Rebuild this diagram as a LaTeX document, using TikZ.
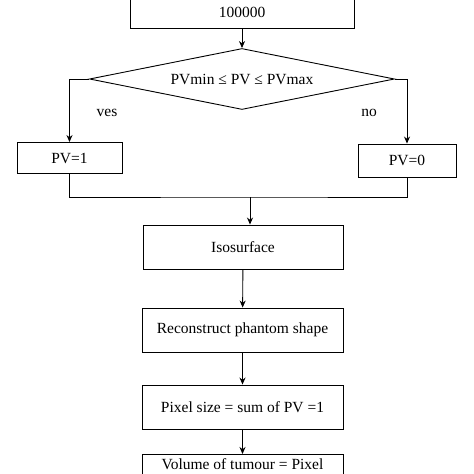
\documentclass[tikz,border=0pt]{standalone}
\usepackage{fontspec}
\setmainfont{Liberation Serif}
\usetikzlibrary{shapes.geometric,arrows.meta}

\tikzstyle{process} = [
    rectangle, draw=black, line width=0.9pt,
    text centered, inner sep=0pt
]
\tikzstyle{decision} = [
    diamond, draw=black, line width=0.9pt,
    aspect=5, inner sep=0pt,
    minimum width=305pt, minimum height=61pt
]
\tikzstyle{line} = [line width=0.9pt]
\tikzstyle{arrow} = [line width=0.9pt,->,>={Stealth[length=7pt,width=6pt]}]

\begin{document}
\begin{tikzpicture}[x=1pt, y=-1pt, font=\fontsize{15.5}{18}\selectfont]
    \useasboundingbox (0,0) rectangle (474,474);
    \clip (0,0) rectangle (474,474);

    \node (init) [process, anchor=south, minimum width=224pt,
        text height=60pt, text depth=11pt] at (242,29) {100000};
    \node (test) [decision] at (242,79) {PVmin ≤ PV ≤ PVmax};
    \node (pv1) [process, minimum width=105pt, minimum height=31pt] at (69.5,158) {PV=1};
    \node (pv0) [process, minimum width=98pt, minimum height=33pt] at (407,160.5) {PV=0};
    \node (iso) [process, minimum width=200pt, minimum height=44pt] at (243,247) {Isosurface};
    \node (recon) [process, minimum width=201pt, minimum height=44pt] at (242.5,330) {Reconstruct phantom shape};
    \node (pix) [process, minimum width=201pt, minimum height=44pt] at (242.5,407) {Pixel size = sum of PV =1};
    \node (vol) [process, anchor=north, minimum width=201pt,
        text height=15pt, text depth=30pt] at (242.5,454) {Volume of tumour = Pixel};

    \node (yes) at (107,113) {ves};
    \node (no) at (369,113) {no};
    \coordinate (merge) at (250,197);

    \draw [arrow] (init) -- (test);
    \draw [arrow] (test.west) -| (pv1.north);
    \draw [arrow] (test.east) -| (pv0.north);
    \draw [line] (pv1.south) |- (merge) -| (pv0.south);
    \draw [arrow] (merge) -- (merge |- iso.north);
    \draw [arrow] (iso) -- (recon);
    \draw [arrow] (recon) -- (pix);
    \draw [arrow] (pix) -- (vol);
\end{tikzpicture}
\end{document}
